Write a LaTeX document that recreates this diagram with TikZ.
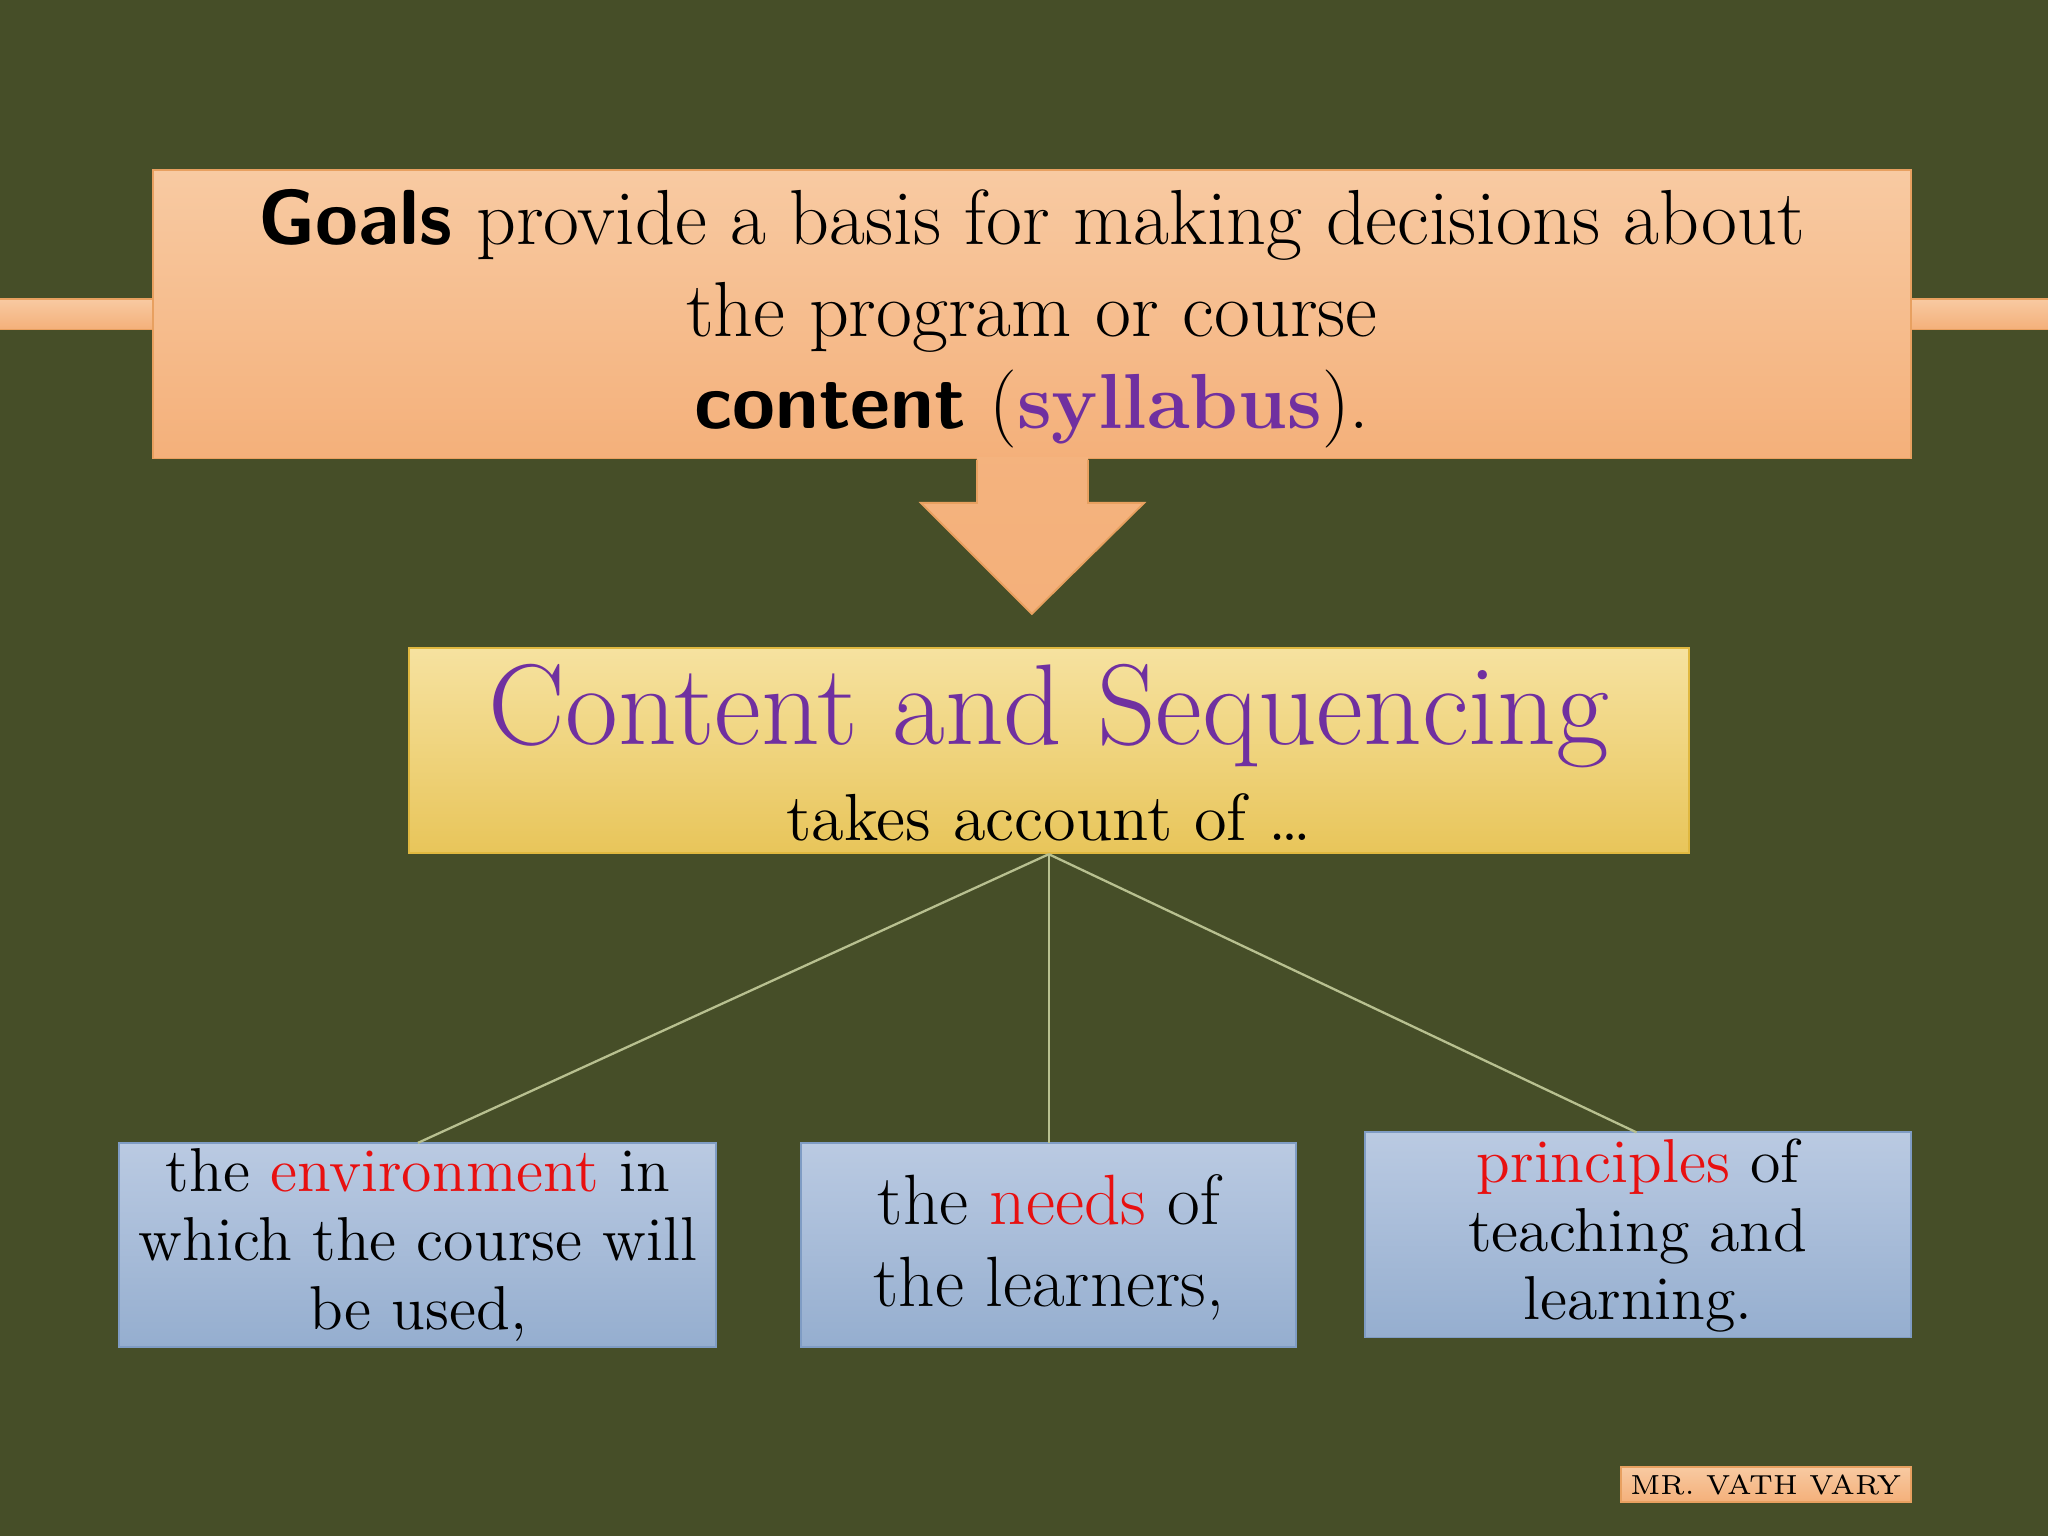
\documentclass[tikz,border=0pt]{standalone}
\usetikzlibrary{shadings}
\definecolor{bg}{HTML}{464E28}
\definecolor{orT}{HTML}{F8CAA2}
\definecolor{orB}{HTML}{F4B07A}
\definecolor{orE}{HTML}{E8A060}
\definecolor{goT}{HTML}{F6E2A0}
\definecolor{goB}{HTML}{E8C55A}
\definecolor{goE}{HTML}{E0B840}
\definecolor{blT}{HTML}{BACAE2}
\definecolor{blB}{HTML}{95AECF}
\definecolor{blE}{HTML}{7F9CC4}
\definecolor{purp}{HTML}{7030A0}
\definecolor{redt}{HTML}{E81010}
\definecolor{lin}{HTML}{B8C090}
\begin{document}
\begin{tikzpicture}[x=0.01cm,y=-0.01cm,
  obox/.style={draw=orE,top color=orT,bottom color=orB},
  gbox/.style={draw=goE,top color=goT,bottom color=goB},
  bbox/.style={draw=blE,top color=blT,bottom color=blB},
  conn/.style={draw=lin,line width=0.5pt},
  txt/.style={align=center,text=black}]
\fill[bg] (0,0) rectangle (1568,1176);
\useasboundingbox (0,0) rectangle (1568,1176);
\node[obox,minimum width=1346\pgflinewidth] (top) at (790,240.5) {};
\path[obox] (117,130) rectangle (1463,351);
\coordinate (topc) at (790,240.5);
\path[top color=orB!90!orT,bottom color=orB,draw=none] (748,350) -- (833,350) -- (833,385) -- (876,385) -- (790,470) -- (705,385) -- (748,385) -- cycle;
\draw[orE,line width=0.4pt] (748,352) -- (748,385) -- (705,385) -- (790,470) -- (876,385) -- (833,385) -- (833,352);
\node[txt,font=\fontsize{17}{20}\selectfont] (toptext) at (790,244) {{\sffamily\bfseries Goals} provide a basis for making decisions about\\ the program or course\\ {\sffamily\bfseries content} ({\color{purp}\bfseries syllabus}).};
\path[gbox] (313,496) rectangle (1293,653);
\node[txt,text=purp,font=\fontsize{25}{28}\selectfont] (cs) at (803,548) {Content and Sequencing};
\node[txt,font=\fontsize{14.5}{17}\selectfont] (tk) at (803,626) {takes account of \dots};
\coordinate (hub) at (803,654);
\path[bbox] (91,875) rectangle (548,1031);
\path[bbox] (613,875) rectangle (992,1031);
\path[bbox] (1045,867) rectangle (1463,1024);
\node (b1) at (320,875) {};
\node (b2) at (803,875) {};
\node (b3) at (1253,867) {};
\draw[conn] (hub) -- (b1.center);
\draw[conn] (hub) -- (b2.center);
\draw[conn] (hub) -- (b3.center);
\node[txt,font=\fontsize{13.5}{15}\selectfont] (t1) at (320,953) {the {\color{redt}environment} in\\ which the course will\\ be used,};
\node[txt,font=\fontsize{15.5}{18}\selectfont] (t2) at (803,955) {the {\color{redt}needs} of\\ the learners,};
\node[txt,font=\fontsize{13.5}{15}\selectfont] (t3) at (1254,946) {{\color{redt}principles} of\\ teaching and\\ learning.};
\path[obox] (1241,1123) rectangle (1463,1150);
\node[txt,font=\fontsize{6}{7}\selectfont] (ft) at (1352,1137) {MR. VATH VARY};
\end{tikzpicture}
\end{document}
